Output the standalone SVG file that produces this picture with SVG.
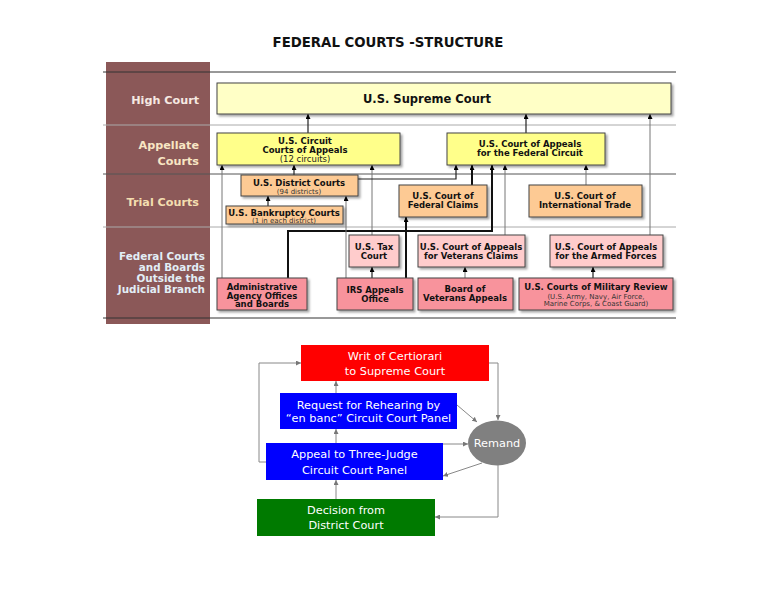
<svg xmlns="http://www.w3.org/2000/svg" width="768" height="594" viewBox="0 0 768 594">
<defs>
<filter id="sh" x="-10%" y="-10%" width="130%" height="140%"><feDropShadow dx="2" dy="2" stdDeviation="0.8" flood-color="#000" flood-opacity="0.35"/></filter>
<marker id="ah" viewBox="0 0 6 6" refX="6" refY="3" markerWidth="5" markerHeight="5" orient="auto" markerUnits="userSpaceOnUse"><path d="M0,0 L6,3 L0,6 z" fill="#000"/></marker>
<marker id="ag" viewBox="0 0 6 6" refX="6" refY="3" markerWidth="5" markerHeight="5" orient="auto" markerUnits="userSpaceOnUse"><path d="M0,0 L6,3 L0,6 z" fill="#777"/></marker>
<style>
text{font-family:"DejaVu Sans","Liberation Sans",sans-serif;text-anchor:middle}
.bx{stroke:#444;stroke-width:1;filter:url(#sh)}
.sup{fill:#ffffc6}.app{fill:#ffff8a}.tri{fill:#fdca94}.lp{fill:#ffcccc}.dp{fill:#f8939c}
.t{font-weight:bold;font-size:8.5px;fill:#111}
.s{font-size:7px;fill:#333}
.lab{font-weight:bold;font-size:11.2px;text-anchor:end}
.lab2{font-weight:bold;font-size:10.4px;text-anchor:end}
.c{fill:none;stroke:#222;stroke-width:1.2;marker-end:url(#ah)}
.cg{fill:none;stroke:#777;stroke-width:1;marker-end:url(#ah)}
.ck{fill:none;stroke:#111;stroke-width:2;marker-end:url(#ah)}
.f{fill:none;stroke:#888;stroke-width:1;marker-end:url(#ag)}
.ft{font-size:11.3px;fill:#fff}
</style>
</defs>
<rect width="768" height="594" fill="#fff"/>
<text x="388" y="47" style="font-weight:bold;font-size:13.3px;fill:#111">FEDERAL COURTS -STRUCTURE</text>

<g id="sidebar">
<rect x="106" y="62" width="104" height="262" fill="#8b5858"/>
<line x1="103" y1="72" x2="676" y2="72" stroke="#333" stroke-width="1"/>
<line x1="103" y1="125" x2="676" y2="125" stroke="#aaa" stroke-width="1"/>
<line x1="103" y1="174" x2="676" y2="174" stroke="#555" stroke-width="1"/>
<line x1="103" y1="227" x2="676" y2="227" stroke="#aaa" stroke-width="1"/>
<line x1="103" y1="318" x2="676" y2="318" stroke="#333" stroke-width="1"/>
<text class="lab" x="199" y="104" fill="#f6e9e2">High Court</text>
<text class="lab" x="199" y="149" fill="#f8e6c4">Appellate</text>
<text class="lab" x="199" y="165" fill="#f8e6c4">Courts</text>
<text class="lab" x="199" y="206" fill="#f4deb0">Trial Courts</text>
<text class="lab2" x="205" y="260" fill="#e2eef6">Federal Courts</text>
<text class="lab2" x="205" y="271" fill="#e2eef6">and Boards</text>
<text class="lab2" x="205" y="282" fill="#e2eef6">Outside the</text>
<text class="lab2" x="205" y="293" fill="#e2eef6">Judicial Branch</text>
</g>

<g id="connectors">
<path class="c" d="M308,133 V114"/>
<path class="c" d="M526,133 V114"/>
<path class="cg" d="M650,235 V114"/>
<path class="cg" d="M222,278 V165"/>
<path class="c" d="M294,175 V165"/>
<path class="cg" d="M372,235 V165"/>
<path class="c" d="M358,179 H456 V165"/>
<path class="ck" d="M472,185 V165"/>
<path class="ck" d="M288,278 V231 H492 V165"/>
<path class="cg" d="M505,235 V165"/>
<path class="cg" d="M586,185 V165"/>
<path class="c" d="M268,206 V196"/>
<path class="cg" d="M346,278 V196"/>
<path class="c" d="M372,278 V267"/>
<path class="ck" d="M406,278 V217"/>
<path class="cg" d="M465,278 V267"/>
<path class="c" d="M593,278 V267"/>
</g>

<g id="supreme"><rect class="bx sup" x="217" y="83" width="454" height="31"/><text x="427" y="103" style="font-weight:bold;font-size:11.5px;fill:#111">U.S. Supreme Court</text></g>
<g id="circuit"><rect class="bx app" x="217" y="133" width="183" height="32"/><text class="t" x="305" y="144">U.S. Circuit</text><text class="t" x="305" y="153">Courts of Appeals</text><text x="305" y="162" style="font-size:8.5px;fill:#222">(12 circuits)</text></g>
<g id="fedcircuit"><rect class="bx app" x="447" y="133" width="158" height="32"/><text class="t" x="530" y="147">U.S. Court of Appeals</text><text class="t" x="530" y="156">for the Federal Circuit</text></g>
<g id="district"><rect class="bx tri" x="241" y="175" width="117" height="21"/><text class="t" x="299" y="185.5">U.S. District Courts</text><text class="s" x="299" y="193.5">(94 districts)</text></g>
<g id="bankruptcy"><rect class="bx tri" x="226" y="206" width="117" height="18"/><text class="t" x="284" y="215.5">U.S. Bankruptcy Courts</text><text class="s" x="284" y="222.5">(1 in each district)</text></g>
<g id="fedclaims"><rect class="bx tri" x="399" y="185" width="88" height="32"/><text class="t" x="443" y="199">U.S. Court of</text><text class="t" x="443" y="208">Federal Claims</text></g>
<g id="intltrade"><rect class="bx tri" x="529" y="185" width="113" height="32"/><text class="t" x="585" y="199">U.S. Court of</text><text class="t" x="585" y="208">International Trade</text></g>
<g id="taxcourt"><rect class="bx lp" x="349" y="235" width="50" height="32"/><text class="t" x="374" y="250">U.S. Tax</text><text class="t" x="374" y="259">Court</text></g>
<g id="vetclaims"><rect class="bx lp" x="418" y="235" width="107" height="32"/><text class="t" x="471" y="250">U.S. Court of Appeals</text><text class="t" x="471" y="259">for Veterans Claims</text></g>
<g id="armedforces"><rect class="bx lp" x="550" y="235" width="113" height="32"/><text class="t" x="606" y="250">U.S. Court of Appeals</text><text class="t" x="606" y="259">for the Armed Forces</text></g>
<g id="admin"><rect class="bx dp" x="217" y="278" width="90" height="32"/><text class="t" x="262" y="290">Administrative</text><text class="t" x="262" y="298.5">Agency Offices</text><text class="t" x="262" y="307">and Boards</text></g>
<g id="irs"><rect class="bx dp" x="337" y="278" width="76" height="32"/><text class="t" x="375" y="293">IRS Appeals</text><text class="t" x="375" y="302">Office</text></g>
<g id="board"><rect class="bx dp" x="418" y="278" width="95" height="32"/><text class="t" x="465" y="292">Board of</text><text class="t" x="465" y="301">Veterans Appeals</text></g>
<g id="military"><rect class="bx dp" x="519" y="278" width="154" height="32"/><text class="t" x="596" y="290">U.S. Courts of Military Review</text><text class="s" x="596" y="298.5">(U.S. Army, Navy, Air Force,</text><text class="s" x="596" y="305.5">Marine Corps, &amp; Coast Guard)</text></g>

<g id="flow-connectors">
<path class="f" d="M336,499 V480"/>
<path class="f" d="M336,443 V429"/>
<path class="f" d="M336,393 V381"/>
<path class="f" d="M266,462 H259 V363 H301"/>
<path class="f" d="M489,363 H498 V420"/>
<path class="f" d="M457,405 L477,422"/>
<path class="f" d="M443,444 H468"/>
<path class="f" d="M482,463 L443,476"/>
<path class="f" d="M498,465 V517 H435"/>
</g>
<g id="writ"><rect x="301" y="345" width="188" height="36" fill="#ff0000"/><text class="ft" x="395" y="360">Writ of Certiorari</text><text class="ft" x="395" y="375">to Supreme Court</text></g>
<g id="rehearing"><rect x="280" y="393" width="177" height="36" fill="#0000ff"/><text class="ft" x="368.5" y="409">Request for Rehearing by</text><text class="ft" x="368.5" y="422">“en banc” Circuit Court Panel</text></g>
<g id="appeal"><rect x="266" y="443" width="177" height="37" fill="#0000ff"/><text class="ft" x="354.5" y="458">Appeal to Three-Judge</text><text class="ft" x="354.5" y="474">Circuit Court Panel</text></g>
<g id="decision"><rect x="257" y="499" width="178" height="37" fill="#007a00"/><text class="ft" x="346" y="514">Decision from</text><text class="ft" x="346" y="529">District Court</text></g>
<g id="remand"><ellipse cx="497" cy="443" rx="29" ry="22.5" fill="#808080"/><text class="ft" x="497" y="447">Remand</text></g>
</svg>
